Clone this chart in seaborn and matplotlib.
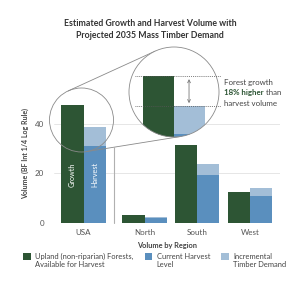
import numpy as np
import pandas as pd
import matplotlib
matplotlib.use('Agg')
import matplotlib.pyplot as plt
import seaborn as sns
from matplotlib.patches import Circle, Rectangle
from matplotlib.legend_handler import HandlerPatch

# ---------------- data ----------------
regions = ['USA', 'North', 'South', 'West']
growth = [47.6, 3.2, 31.5, 12.5]
current_harvest = [30.8, 1.9, 19.3, 10.9]
incremental_demand = [8.0, 0.4, 4.5, 3.0]
y_ticks = [0, 20, 40]
title = "Estimated Growth and Harvest Volume with\nProjected 2035 Mass Timber Demand"
legend_labels = ["Upland (non-riparian) Forests,\nAvailable for Harvest",
                 "Current Harvest\nLevel",
                 "Incremental\nTimber Demand"]
bar_labels = ["Growth", "Harvest"]
callout_lines = ["Forest growth", "18% higher", " than", "harvest volume"]

# ---------------- layout / style ----------------
GREEN = '#2d5534'
BLUE = '#5a8fbe'
LIGHT = '#a3bed7'
TXT = '#444444'
region_pos = [-0.16, 1, 2, 3]
BAR_W = 0.84

sns.set_style('white')
plt.rcParams['font.family'] = ['Lato', 'DejaVu Sans']

total_harvest = [c + i for c, i in zip(current_harvest, incremental_demand)]
df_back = pd.DataFrame({'pos': region_pos * 2,
                        'value': growth + total_harvest,
                        'series': ['Growth'] * 4 + ['Harvest'] * 4})
df_front = pd.DataFrame({'pos': region_pos * 2,
                         'value': growth + current_harvest,
                         'series': ['Growth'] * 4 + ['Harvest'] * 4})


def draw_bars(a):
    sns.barplot(data=df_back, x='pos', y='value', hue='series',
                hue_order=['Growth', 'Harvest'], palette=[GREEN, LIGHT],
                native_scale=True, width=BAR_W, legend=False, ax=a,
                saturation=1, linewidth=0, errorbar=None)
    sns.barplot(data=df_front, x='pos', y='value', hue='series',
                hue_order=['Growth', 'Harvest'], palette=[GREEN, BLUE],
                native_scale=True, width=BAR_W, legend=False, ax=a,
                saturation=1, linewidth=0, errorbar=None)


W, H = 300, 295
fig = plt.figure(figsize=(3.0, 2.95), dpi=100)
PX = 2.47
YTOP = 56
ax = fig.add_axes([54 / W, (H - 222.5) / H, 226 / W, YTOP * PX / H])
draw_bars(ax)
ax.set_xlim(-0.72, 3.57)
ax.set_ylim(0, YTOP)
ax.set_yticks(y_ticks)
ax.set_xticks(region_pos)
ax.set_xticklabels(regions)
ax.yaxis.grid(True, color='#e2e2e2', lw=0.6)
ax.set_axisbelow(True)
for s in ax.spines.values():
    s.set_visible(False)
ax.tick_params(axis='both', length=0, labelsize=5.8, labelcolor='#555555')
ax.tick_params(axis='y', pad=7)
ax.tick_params(axis='x', pad=5)
ax.set_xlabel('Volume by Region', fontsize=5.3, fontweight='bold', color=TXT, labelpad=4)
ax.set_ylabel('Volume (BF Int 1/4 Log Rule)', fontsize=5.0, fontweight='bold', color=TXT, labelpad=4)

# labels inside USA bars
xg = region_pos[0] - BAR_W / 4
xh = region_pos[0] + BAR_W / 4
for xx, lab in zip([xg, xh], bar_labels):
    ax.text(xx, 19.5, lab, rotation=90, color='white', fontsize=5.2,
            ha='center', va='center')

# ---------------- overlay (zoom circle, connectors) ----------------
ov = fig.add_axes([0, 0, 1, 1])
ov.set_xlim(0, W)
ov.set_ylim(H, 0)
ov.axis('off')
ov.patch.set_alpha(0)

c1, r1 = np.array([81.5, 120.0]), 32.0
c2, r2 = np.array([174.0, 92.0]), 45.0
ov.add_patch(Circle(c1, r1, fc='none', ec='#8a8a8a', lw=0.6))
d = c2 - c1
D = np.hypot(*d)
base = np.arctan2(d[1], d[0])
th = np.arccos((r1 - r2) / D)
tangents = []
for sgn in (-1, 1):
    n = np.array([np.cos(base + sgn * th), np.sin(base + sgn * th)])
    p1, p2 = c1 + r1 * n, c2 + r2 * n
    tangents.append((p1, p2))
    ov.plot([p1[0], p2[0]], [p1[1], p2[1]], color='#8a8a8a', lw=0.6)

# separator line between USA and regions
sep_x = 114
p1, p2 = tangents[1]
y_top = p1[1] + (sep_x - p1[0]) * (p2[1] - p1[1]) / (p2[0] - p1[0])
ov.plot([sep_x, sep_x], [222.5, y_top], color='#b0b0b0', lw=0.8)

# ---------------- inset zoom ----------------
ax_in = fig.add_axes([(c2[0] - r2) / W, (H - c2[1] - r2) / H, 2 * r2 / W, 2 * r2 / H])
draw_bars(ax_in)
bars = list(ax_in.patches)
ax_in.set_xlim(-0.763, 0.456)
ax_in.set_ylim(29.9, 56.0)
ax_in.axis('off')
clip = Circle((0.5, 0.5), 0.5, transform=ax_in.transAxes)
for b in bars:
    b.set_clip_path(clip)
ax_in.add_patch(Circle((0.5, 0.5), 0.5, transform=ax_in.transAxes,
                       fc='white', ec='none', zorder=0))
ax_in.add_patch(Circle((0.5, 0.5), 0.5, transform=ax_in.transAxes,
                       fc='none', ec='#8a8a8a', lw=0.6, zorder=5, clip_on=False))
for yv in (growth[0], total_harvest[0]):
    ax_in.plot([0.07, 1.02], [yv, yv], transform=ax_in.get_yaxis_transform(),
               ls=(0, (1, 1.3)), color='#555555', lw=0.6, clip_on=False, zorder=6)
ax_in.annotate('', xy=(xh, growth[0] - 0.9), xytext=(xh, total_harvest[0] + 0.9),
               arrowprops=dict(arrowstyle='<->', color='#777777', lw=0.6,
                               shrinkA=0, shrinkB=0, mutation_scale=5), zorder=6)

# ---------------- callout text ----------------
tx = 224 / W
fig.text(tx, 1 - 82 / H, callout_lines[0], fontsize=5.7, color=TXT, va='center')
t_b = fig.text(tx, 1 - 92.5 / H, callout_lines[1], fontsize=5.7, color=GREEN,
               fontweight='bold', va='center')
ov.annotate(callout_lines[2], xy=(1, 0.5), xycoords=t_b, fontsize=5.7, color=TXT,
            va='center', ha='left')
fig.text(tx, 1 - 103.3 / H, callout_lines[3], fontsize=5.7, color=TXT, va='center')

# ---------------- title ----------------
fig.text(0.5, 1 - 29.5 / H, title, ha='center', va='center', fontsize=6.3,
         fontweight='bold', color='#333333', linespacing=1.3)

# ---------------- legend ----------------
def top_square(legend, orig_handle, xdescent, ydescent, width, height, fontsize):
    return Rectangle((-xdescent, -ydescent + 0.6 * fontsize), width, height)

handles = [Rectangle((0, 0), 1, 1, fc=c, ec='none') for c in (GREEN, BLUE, LIGHT)]
fig.legend(handles, legend_labels, ncol=3, loc='upper left',
           bbox_to_anchor=(23 / W, 1 - 253 / H), frameon=False, fontsize=5.4,
           handlelength=1.0, handleheight=1.0, handletextpad=0.6,
           columnspacing=1.5, borderpad=0, borderaxespad=0, labelcolor=TXT,
           handler_map={Rectangle: HandlerPatch(patch_func=top_square)})

fig.savefig('out.png', dpi=100)
